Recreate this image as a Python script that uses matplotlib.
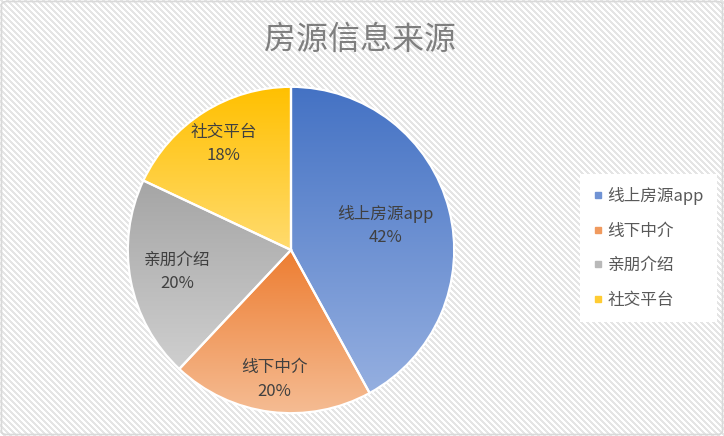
import numpy as np
import matplotlib
matplotlib.use("Agg")
import matplotlib.pyplot as plt
from matplotlib.colors import LinearSegmentedColormap
from matplotlib.patches import FancyBboxPatch
from matplotlib.lines import Line2D

plt.rcParams['font.family'] = ['Noto Sans CJK SC', 'DejaVu Sans']

title = "房源信息来源"
categories = ["线上房源app", "线下中介", "亲朋介绍", "社交平台"]
shares = [42, 20, 20, 18]

# gradient (top -> bottom) for each slice
top_colors = ["#4472C4", "#ED7D31", "#A5A5A5", "#FFC000"]
bottom_colors = ["#95AFE0", "#F5BC93", "#CFCFCF", "#FFDB6E"]
legend_colors = ["#7093D4", "#F09A5E", "#B9B9B9", "#FFCC33"]
label_radius = [0.60, 0.80, 0.71, 0.77]

W, H = 724, 436
fig = plt.figure(figsize=(W / 100, H / 100), dpi=100)

# hatched background
yy, xx = np.mgrid[0:H, 0:W]
stripe = ((xx - yy) % 6) < 3
bg = np.ones((H, W, 3))
bg[stripe] = 0.9
fig.figimage(bg, xo=0, yo=0, origin='upper', zorder=-5)

border = FancyBboxPatch((1.5 / W, 1.5 / H), 1 - 3 / W, 1 - 3 / H,
                        boxstyle="round,pad=0,rounding_size=0.008",
                        transform=fig.transFigure, facecolor='none',
                        edgecolor='#D9D9D9', linewidth=1.2, zorder=-4)
fig.patches.append(border)

fig.text(0.497, 1 - 40 / H, title, ha='center', va='center',
         fontsize=23, color='#7F7F7F')

ax = fig.add_axes([127 / W, 22 / H, 328 / W, 328 / H])
ax.set_axis_off()
ax.set_zorder(2)
wedges, texts = ax.pie(shares, startangle=90, counterclock=False,
                       radius=1,
                       wedgeprops=dict(edgecolor='white', linewidth=1.6))

for w, c0, c1 in zip(wedges, top_colors, bottom_colors):
    ext = w.get_path().get_extents()
    cmap = LinearSegmentedColormap.from_list("g", [c1, c0])
    grad = np.linspace(0, 1, 256).reshape(-1, 1)
    im = ax.imshow(grad, cmap=cmap, origin='lower', aspect='auto',
                   extent=[ext.x0, ext.x1, ext.y0, ext.y1], zorder=1)
    im.set_clip_path(w)
    w.set_facecolor('none')
    w.set_zorder(2)

ax.set_xlim(-1.005, 1.005)
ax.set_ylim(-1.005, 1.005)
ax.set_aspect('equal')

total = sum(shares)
start = 90.0
for name, val, r in zip(categories, shares, label_radius):
    ang = np.deg2rad(start - 360 * val / total / 2)
    start -= 360 * val / total
    ax.text(r * np.cos(ang), r * np.sin(ang), f"{name}\n{val}%",
            ha='center', va='center', fontsize=12, color='#404040',
            linespacing=1.5, zorder=3)

handles = [Line2D([], [], marker='s', linestyle='none', markersize=5,
                  markerfacecolor=c, markeredgecolor=c) for c in legend_colors]
leg = fig.legend(handles, categories, loc='center left',
                 bbox_to_anchor=(580 / W, 1 - 248 / H), frameon=True,
                 fontsize=12, labelspacing=1.05, handlelength=0.5,
                 handletextpad=0.35, borderpad=0.8, borderaxespad=0,
                 fancybox=False)
leg.get_frame().set_facecolor('white')
leg.get_frame().set_edgecolor('none')
leg.get_frame().set_alpha(1)
for t in leg.get_texts():
    t.set_color('#595959')

fig.savefig("out.png", dpi=100)
